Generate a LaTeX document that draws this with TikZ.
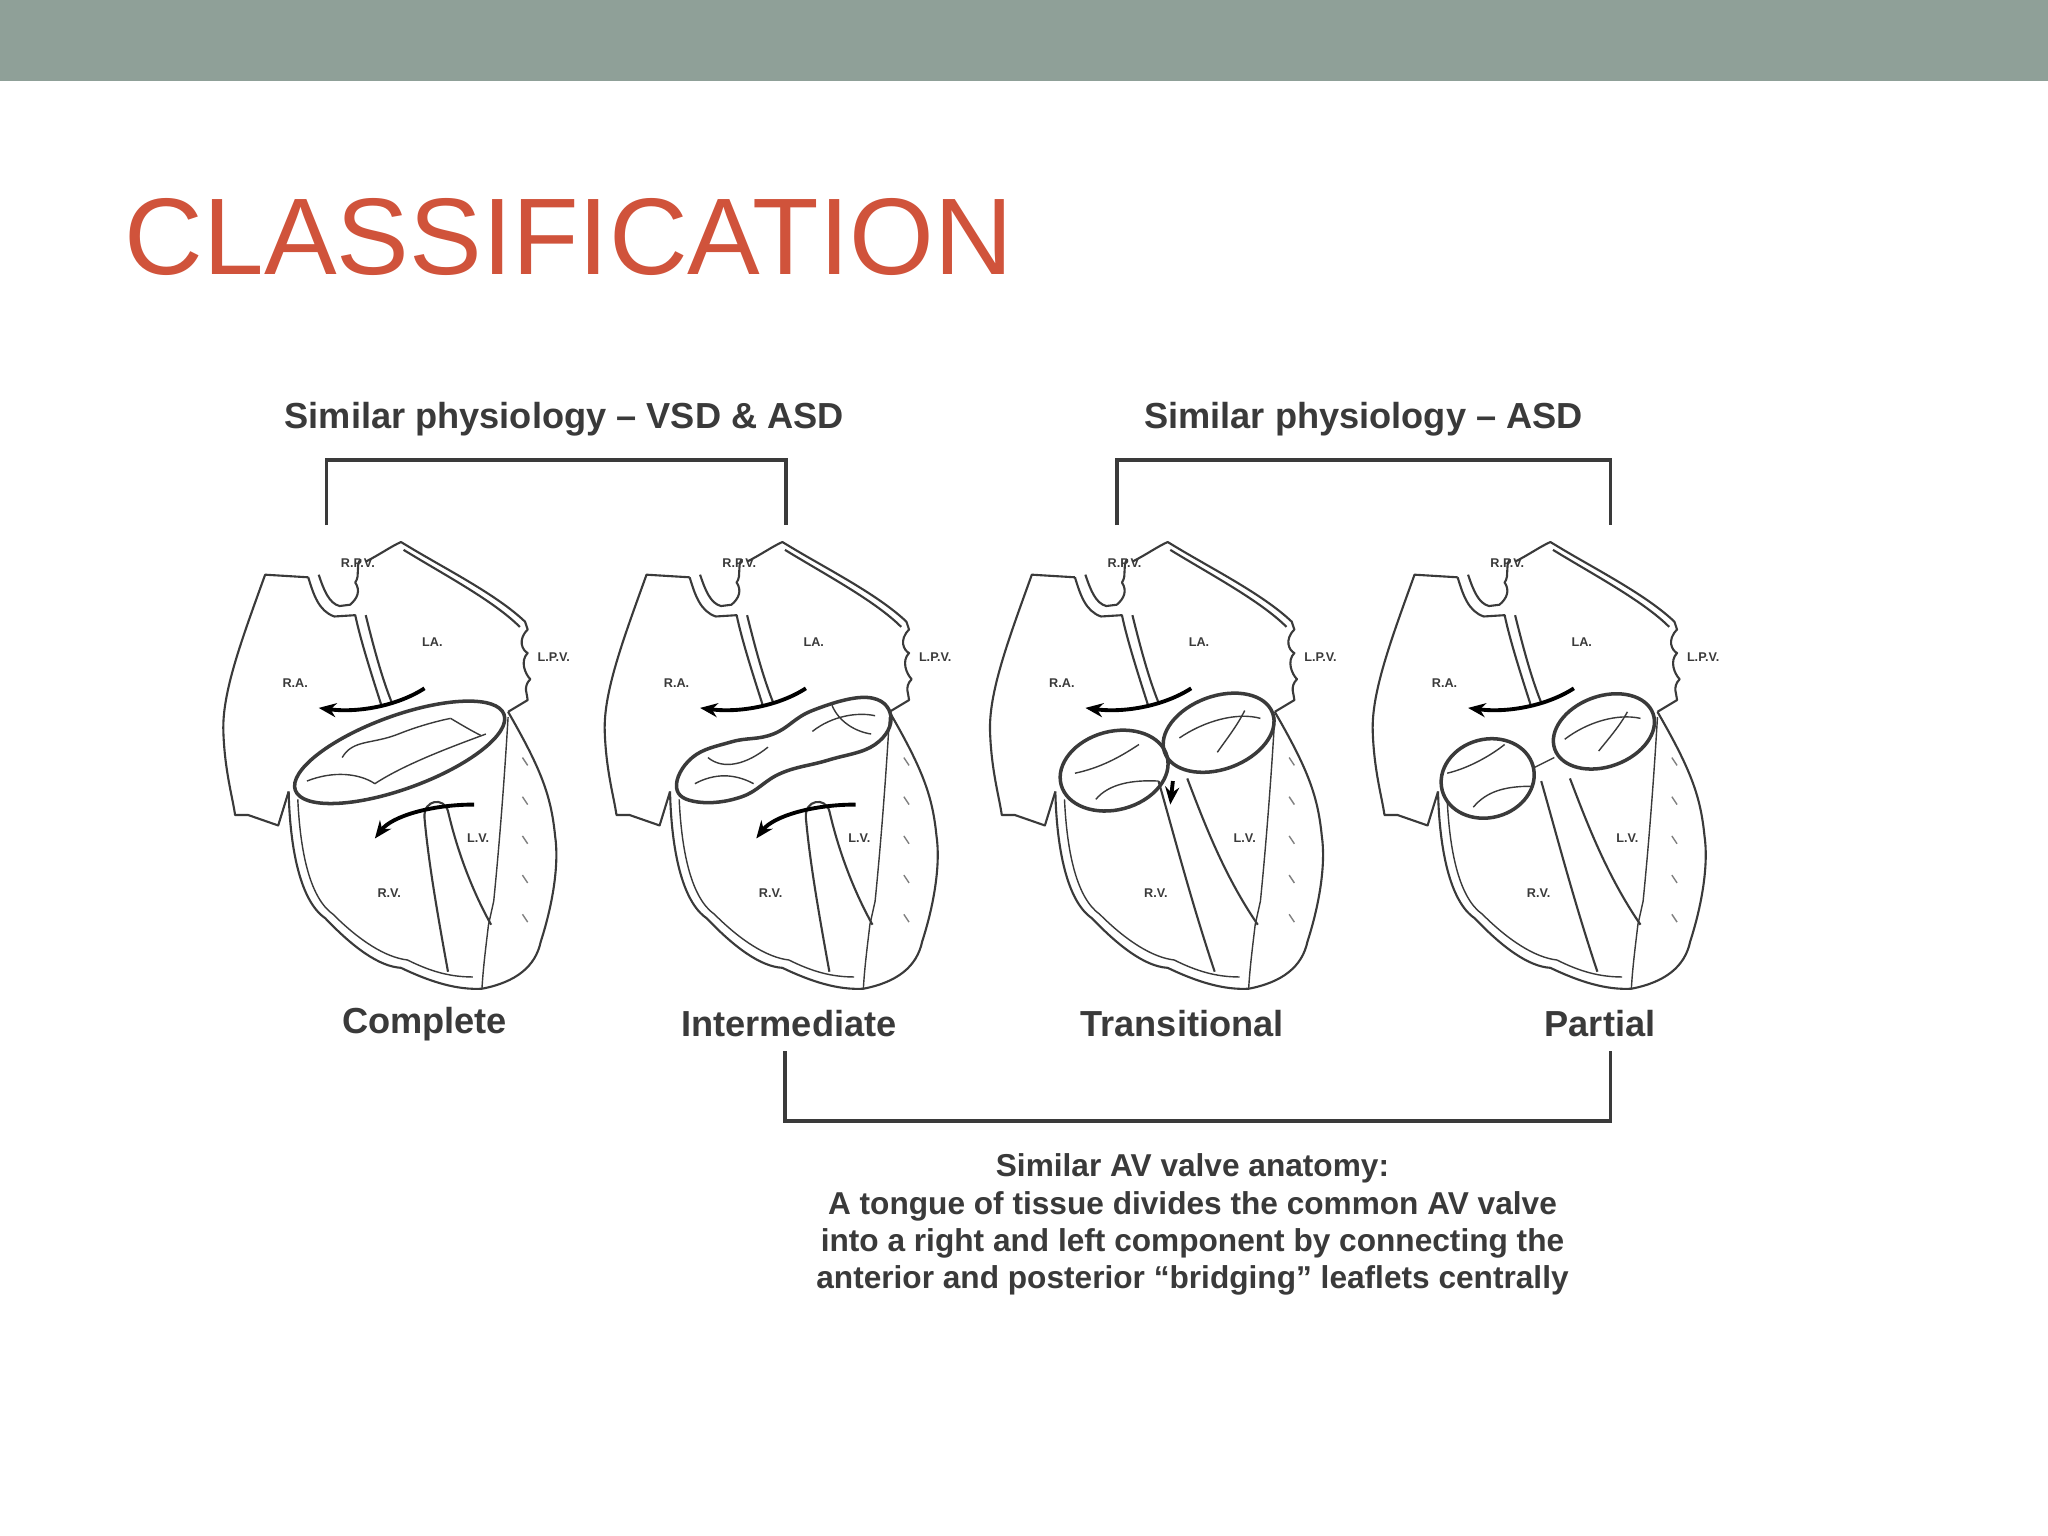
\documentclass[tikz,border=0pt]{standalone}
\usepackage{fontspec}
\setmainfont{Liberation Sans}
\usetikzlibrary{arrows.meta}
\definecolor{barcol}{HTML}{8FA098}
\definecolor{titlecol}{HTML}{D0533B}
\definecolor{ink}{HTML}{3A3A3A}
\tikzset{
  wall/.style={draw=ink, line width=0.6pt, line join=round},
  thin/.style={draw=ink, line width=0.4pt},
  bracket/.style={draw=ink, line width=1.1pt},
  flow/.style={draw=black, line width=1.1pt, -{Stealth[length=5pt,width=4pt]}},
  lab/.style={font=\fontsize{10.3pt}{12pt}\selectfont\bfseries, text=ink},
  tiny/.style={font=\fontsize{3.6pt}{4pt}\selectfont\bfseries, text=ink},
}
\newcommand\heartcommon{%
  \draw[wall] (236,442) -- (203,440) .. controls (185,490) and (170,530) .. (171,560)
     .. controls (172,590) and (178,610) .. (180,624) -- (190,624) -- (213,632) -- (221,606);
  \draw[wall] (236,442) .. controls (240,455) and (244,468) .. (256,472) -- (272,471)
     .. controls (276,490) and (284,515) .. (292,540);
  \draw[wall] (244,440) .. controls (248,452) and (252,462) .. (260,464) -- (268,463)
     .. controls (274,458) and (276,452) .. (272,446) .. controls (276,440) and (272,434) .. (276,428);
  \draw[wall] (280,471) .. controls (286,495) and (292,518) .. (300,538);
  \draw[wall] (280,430) .. controls (290,425) and (300,418) .. (307,415) -- (312,418)
     .. controls (340,435) and (380,455) .. (402,476) -- (404,482)
     .. controls (396,490) and (400,498) .. (404,500) .. controls (398,506) and (402,516) .. (406,520)
     .. controls (400,526) and (404,532) .. (404,536) -- (389,545);
  \draw[wall] (309,421) .. controls (340,440) and (378,460) .. (398,480);
  \draw[wall] (221,606) .. controls (222,650) and (230,690) .. (249,703)
     .. controls (270,725) and (290,740) .. (307,741) .. controls (330,752) and (350,758) .. (369,757)
     .. controls (395,752) and (410,740) .. (414,721) .. controls (424,690) and (428,660) .. (425,640)
     .. controls (422,610) and (415,590) .. (389,545);
  \draw[thin] (228,612) .. controls (230,655) and (238,688) .. (255,700)
     .. controls (275,720) and (295,733) .. (312,735) .. controls (330,744) and (345,748) .. (362,748);
  \draw[thin] (389,549) .. controls (386,600) and (382,650) .. (378,690) -- (374,708)
     .. controls (372,725) and (370,740) .. (369,757);
  \foreach \y in {580,610,640,670,700} \draw[thin, gray] (400,\y) -- (404,\y+6);
  \node[tiny] at (274,431) {R.P.V.};
  \node[tiny] at (331,492) {LA.};
  \node[tiny] at (424,503) {L.P.V.};
  \node[tiny] at (226,523) {R.A.};
  \node[tiny] at (366,642) {L.V.};
  \node[tiny] at (298,684) {R.V.};
  \draw[flow] (325,527) .. controls (305,540) and (275,546) .. (244,542);
}
\newcommand\hearttongue{%
  \draw[wall] (343,744) .. controls (335,700) and (328,660) .. (325,626)
     .. controls (324,612) and (340,610) .. (343,621) .. controls (352,660) and (366,690) .. (376,708);
}
\newcommand\heartwedge{%
  \draw[wall] (343,744) .. controls (325,690) and (312,640) .. (300,598);
  \draw[wall] (376,708) .. controls (350,670) and (335,630) .. (322,596);
}
\begin{document}
\begin{tikzpicture}[x=0.01306cm, y=-0.01306cm]
\useasboundingbox (0,0) rectangle (1568,1176);
\fill[white] (0,0) rectangle (1568,1176);
\fill[barcol] (0,0) rectangle (1568,62);
\node[anchor=base west, text=titlecol, font=\fontsize{31pt}{36pt}\selectfont, inner sep=0] (title) at (95,210) {CLASSIFICATION};

\node[lab] (h1) at (432,321) {Similar physiology – VSD \& ASD};
\node[lab] (h2) at (1044,321) {Similar physiology – ASD};
\coordinate (b1a) at (250,402); \coordinate (b1b) at (602,402);
\draw[bracket] (b1a) |- (426,352) -| (b1b);
\coordinate (b2a) at (855,402); \coordinate (b2b) at (1233,402);
\draw[bracket] (b2a) |- (1044,352) -| (b2b);

\begin{scope}
\heartcommon \hearttongue
\draw[wall, line width=1pt, rotate around={20:(306,576)}] (306,576) ellipse[x radius=85, y radius=28];
\draw[thin] (235,598) .. controls (255,590) and (275,592) .. (287,600);
\draw[thin] (287,600) .. controls (310,585) and (345,572) .. (372,562);
\draw[thin] (262,580) .. controls (270,566) and (285,570) .. (305,562) .. controls (320,556) and (335,552) .. (345,550);
\draw[thin] (345,550) .. controls (355,556) and (362,560) .. (368,563);
\draw[flow] (363,616) .. controls (330,616) and (300,625) .. (287,642);
\end{scope}

\begin{scope}[shift={(292,0)}]
\heartcommon \hearttongue
\draw[wall, line width=1pt] plot[smooth cycle, tension=0.7] coordinates {(226,603) (238,580) (268,568) (300,562) (330,544) (372,534) (390,548) (378,570) (342,582) (306,592) (276,610) (242,614)};
\draw[thin] (240,600) .. controls (255,592) and (270,592) .. (285,600);
\draw[thin] (250,580) .. controls (262,590) and (280,585) .. (296,572);
\draw[thin] (330,560) .. controls (345,548) and (365,545) .. (378,548);
\draw[thin] (345,540) .. controls (350,552) and (362,560) .. (375,562);
\draw[flow] (363,616) .. controls (330,616) and (300,625) .. (287,642);
\end{scope}

\begin{scope}[shift={(587,0)}]
\heartcommon \heartwedge
\draw[wall, line width=1pt, rotate around={15:(266,590)}] (266,590) ellipse[x radius=42, y radius=30];
\draw[wall, line width=1pt, rotate around={20:(346,561)}] (346,561) ellipse[x radius=44, y radius=28];
\draw[thin] (236,592) .. controls (255,588) and (270,580) .. (285,570);
\draw[thin] (252,612) .. controls (262,600) and (280,597) .. (300,598);
\draw[thin] (316,565) .. controls (335,552) and (360,545) .. (378,550);
\draw[thin] (345,576) .. controls (352,566) and (360,556) .. (366,544);
\draw[flow] (311,598) -- (309,616);
\end{scope}

\begin{scope}[shift={(880,0)}]
\heartcommon \heartwedge
\draw[wall, line width=1pt, rotate around={15:(259,596)}] (259,596) ellipse[x radius=36, y radius=30];
\draw[wall, line width=1pt, rotate around={20:(348,560)}] (348,560) ellipse[x radius=40, y radius=27];
\draw[thin] (294,588) -- (310,580);
\draw[thin] (228,592) .. controls (245,588) and (262,578) .. (272,570);
\draw[thin] (248,618) .. controls (258,606) and (272,602) .. (292,602);
\draw[thin] (318,566) .. controls (335,553) and (358,546) .. (376,550);
\draw[thin] (344,575) .. controls (352,565) and (360,556) .. (366,545);
\end{scope}

\node[lab] (lc) at (325,784) {Complete};
\node[lab] (li) at (604,784) {Intermediate};
\node[lab] (lt) at (905,784) {Transitional};
\node[lab] (lp) at (1225,784) {Partial};
\coordinate (c1) at (601,805); \coordinate (c2) at (1233,805);
\draw[bracket] (c1) |- (917,858) -| (c2);
\node[font=\fontsize{9pt}{10.6pt}\selectfont\bfseries, text=ink, align=center, anchor=north] (desc) at (913,874)
 {Similar AV valve anatomy:\\A tongue of tissue divides the common AV valve\\into a right and left component by connecting the\\anterior and posterior “bridging” leaflets centrally};
\end{tikzpicture}
\end{document}
